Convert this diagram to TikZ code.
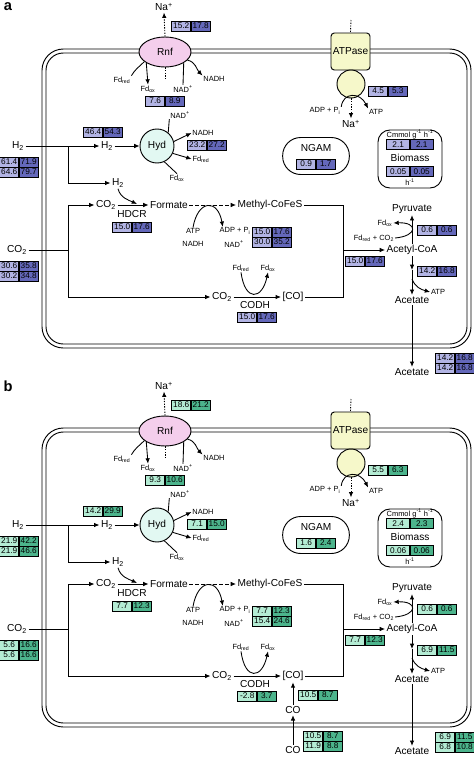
\documentclass[tikz,border=0pt]{standalone}
\usepackage{fontspec}
\setmainfont{Liberation Sans}
\usepackage{tikz}
\usetikzlibrary{arrows.meta,shapes.geometric}
\definecolor{avlight}{RGB}{178,180,228}
\definecolor{avdark}{RGB}{100,104,186}
\definecolor{bvlight}{RGB}{180,236,212}
\definecolor{bvdark}{RGB}{76,180,140}
\definecolor{rnfpink}{RGB}{244,206,236}
\definecolor{atpyellow}{RGB}{246,248,202}
\definecolor{hydcyan}{RGB}{226,248,242}
\colorlet{lightflux}{avlight}
\colorlet{darkflux}{avdark}
\tikzset{
  lbl/.style={font=\fontsize{7.6}{9}\selectfont,inner sep=1pt},
  smalllbl/.style={font=\fontsize{5.6}{6.5}\selectfont,inner sep=0.5pt},
  paneltitle/.style={font=\fontsize{11}{12}\selectfont\bfseries,inner sep=0pt},
  fluxcell/.style={draw,line width=0.4pt,minimum width=14.25pt,minimum height=7.5pt,inner sep=0pt,font=\fontsize{6.2}{6.2}\selectfont},
  fluxl/.style={fluxcell,fill=lightflux},
  fluxr/.style={fluxcell,fill=darkflux},
  widecell/.style={minimum width=17.25pt},
  rxnline/.style={line width=0.65pt},
  rxnarrow/.style={-{Latex[length=4pt,width=3.4pt]},line width=0.65pt},
  dottedarrow/.style={-{Latex[length=4pt,width=3.4pt]},line width=0.65pt,dash pattern=on 1pt off 1pt},
  dottedline/.style={line width=0.65pt,dash pattern=on 1pt off 1pt},
  membrane/.style={line width=0.7pt},
  rnfnode/.style={ellipse,draw,line width=0.7pt,fill=rnfpink,minimum width=39pt,minimum height=22.5pt,inner sep=0pt,font=\fontsize{7.6}{9}\selectfont},
  atpnode/.style={rectangle,rounded corners=2.5pt,draw,line width=0.7pt,fill=atpyellow,minimum width=29.25pt,minimum height=27.75pt,inner sep=0pt,font=\fontsize{7.6}{9}\selectfont},
  atpball/.style={circle,draw,line width=0.7pt,fill=atpyellow,minimum size=21pt,inner sep=0pt},
  hydnode/.style={circle,draw,line width=0.7pt,fill=hydcyan,minimum size=25.5pt,inner sep=0pt,font=\fontsize{7.6}{9}\selectfont},
  ngambox/.style={rectangle,rounded corners=13.5pt,draw,line width=0.7pt,minimum width=50pt,minimum height=27.75pt},
  biobox/.style={rectangle,rounded corners=9pt,draw,line width=0.7pt,minimum width=48pt,minimum height=43.5pt}
}
\newcommand{\fluxpair}[5][]{%
  \node[fluxl,#1,anchor=east] (#2l) at #3 {#4};
  \node[fluxr,#1,anchor=west] (#2r) at #3 {#5};
}
\newcommand{\pathwaycell}[1]{%
  \node[paneltitle] (#1title) at (8,7) {#1};
  % cell membrane
  \draw[membrane,rounded corners=16pt] (42,49) rectangle (471,348);
  \draw[membrane,rounded corners=13pt] (46,53) rectangle (467,344);
  % Rnf complex
  \node[rnfnode] (#1rnf) at (165,52) {Rnf};
  \node[lbl] (#1rnfna) at (164,7) {Na\textsuperscript{+}};
  \coordinate (#1rnfin) at (165,80);
  \draw[dottedarrow] (#1rnf.north) -- (#1rnfna.south);
  \draw[dottedline] (#1rnf.south) -- (#1rnfin);
  \node[smalllbl] (#1rfdred) at (122,80) {Fd\textsubscript{red}};
  \node[smalllbl] (#1rfdox) at (148,89) {Fd\textsubscript{ox}};
  \node[smalllbl] (#1rnad) at (183,89) {NAD\textsuperscript{+}};
  \node[smalllbl] (#1rnadh) at (214,79) {NADH};
  \draw[rxnline] (#1rfdred.north east) to[out=60,in=225] (#1rnf.205);
  \draw[rxnarrow] (#1rnf.south west) -- (#1rfdox.north);
  \draw[rxnline] (#1rnad.north) -- (#1rnf.south east);
  \draw[rxnarrow] (#1rnf.-20) to[out=-10,in=135] (#1rnadh.north west);
  % ATPase
  \node[atpnode] (#1atp) at (350.5,51.5) {ATPase};
  \coordinate (#1atpout) at (351,20);
  \draw[dottedline] (#1atpout) -- (#1atp.north);
  \node[atpball] (#1atpball) at (351,84) {};
  \node[lbl] (#1atpna) at (351,124) {Na\textsuperscript{+}};
  \draw[dottedarrow] (#1atpball.south) -- (#1atpna.north);
  \node[smalllbl] (#1atpadp) at (325,111) {ADP + P\textsubscript{i}};
  \node[smalllbl] (#1atpatp) at (376,112) {ATP};
  \draw[rxnarrow] (#1atpadp.north east) .. controls (343,92) and (360,92) .. (#1atpatp.north west);
  % maintenance and growth
  \node[ngambox] (#1ngam) at (316,156) {};
  \node[lbl] (#1ngamlbl) at (316,148) {NGAM};
  \node[biobox] (#1bio) at (410,159) {};
  \node[smalllbl] (#1biounit) at (410,134.5) {Cmmol g\textsuperscript{-1} h\textsuperscript{-1}};
  \node[lbl] (#1biolbl) at (410,158) {Biomass};
  \node[smalllbl] (#1biorate) at (410,182) {h\textsuperscript{-1}};
  % hydrogenase
  \node[lbl] (#1h2in) at (18,146) {H\textsubscript{2}};
  \node[lbl] (#1h2hyd) at (107,146) {H\textsubscript{2}};
  \node[hydnode] (#1hyd) at (157,146) {Hyd};
  \coordinate (#1h2split) at (68,146);
  \draw[rxnarrow] (#1h2in.east) -- (#1h2hyd.west);
  \draw[rxnarrow] (#1h2hyd.east) -- (#1hyd.west);
  \node[lbl] (#1h2hdcr) at (118,183) {H\textsubscript{2}};
  \draw[rxnarrow] (#1h2split) |- (#1h2hdcr.west);
  \node[smalllbl] (#1hnad) at (180,115) {NAD\textsuperscript{+}};
  \node[smalllbl] (#1hnadh) at (203,133) {NADH};
  \node[smalllbl] (#1hfdred) at (201,159) {Fd\textsubscript{red}};
  \node[smalllbl] (#1hfdox) at (177,178) {Fd\textsubscript{ox}};
  \draw[rxnline] (#1hyd.50) -- (#1hnad.south west);
  \draw[rxnarrow] (#1hyd.15) -- (#1hnadh.west);
  \draw[rxnarrow] (#1hyd.-25) -- (#1hfdred.west);
  \draw[rxnline] (#1hyd.-65) -- (#1hfdox.north);
  % Wood-Ljungdahl pathway
  \node[lbl] (#1co2in) at (17,250) {CO\textsubscript{2}};
  \coordinate (#1co2top) at (68,205);
  \coordinate (#1co2join) at (68,250);
  \node[lbl] (#1co2hdcr) at (106,205) {CO\textsubscript{2}};
  \node[lbl] (#1formate) at (169,205) {Formate};
  \node[lbl] (#1methyl) at (270,205) {Methyl-CoFeS};
  \node[lbl] (#1co2codh) at (222,297) {CO\textsubscript{2}};
  \node[lbl] (#1co) at (293,297) {[CO]};
  \draw[rxnline] (#1co2in.east) -- (#1co2join);
  \draw[rxnarrow] (#1co2top) -- (#1co2hdcr.west);
  \draw[rxnarrow] (#1co2top) |- (#1co2codh.west);
  \draw[rxnarrow] (#1co2hdcr.east) -- (#1formate.west);
  \coordinate (#1hdcrin) at (137,204);
  \draw[rxnarrow] (#1h2hdcr.south) to[out=-75,in=155] (#1hdcrin);
  \node[lbl] (#1hdcr) at (132,214) {HDCR};
  \draw[rxnarrow,dash pattern=on 3pt off 1.5pt] (#1formate.east) -- (#1methyl.west);
  \node[smalllbl] (#1mtatp) at (193,231) {ATP};
  \node[smalllbl] (#1mtnadh) at (193,244) {NADH};
  \node[smalllbl] (#1mtadp) at (235,231) {ADP + P\textsubscript{i}};
  \node[smalllbl] (#1mtnad) at (234,244) {NAD\textsuperscript{+}};
  \draw[rxnarrow] (#1mtatp.north) .. controls (198,199) and (218,199) .. ([xshift=3pt]#1mtadp.north west);
  \draw[rxnarrow] (#1co2codh.east) -- (#1co.west);
  \node[lbl] (#1codh) at (255,305) {CODH};
  \node[smalllbl] (#1cfdred) at (241,268) {Fd\textsubscript{red}};
  \node[smalllbl] (#1cfdox) at (268,268) {Fd\textsubscript{ox}};
  \draw[rxnarrow] (#1cfdred.south) .. controls (245,302) and (262,300) .. (#1cfdox.south);
  \coordinate (#1acjoin) at (343,250);
  \node[lbl] (#1acoa) at (412,250) {Acetyl-CoA};
  \draw[rxnline] (#1methyl.east) -| (#1acjoin);
  \draw[rxnline] (#1co.east) -| (#1acjoin);
  \draw[rxnarrow] (#1acjoin) -- (#1acoa.west);
  % pyruvate and acetate
  \node[lbl] (#1pyr) at (412,209) {Pyruvate};
  \draw[rxnarrow] (#1acoa.north) -- (#1pyr.south);
  \node[smalllbl] (#1pfdred) at (374,238) {Fd\textsubscript{red} + CO\textsubscript{2}};
  \node[smalllbl] (#1pfdox) at (385,223) {Fd\textsubscript{ox}};
  \draw[rxnarrow] (#1pfdred.east) .. controls (418,236) and (418,222) .. (#1pfdox.east);
  \coordinate (#1acmid) at (412,270);
  \coordinate (#1acside) at (412,279);
  \node[lbl] (#1acet) at (412,300) {Acetate};
  \node[smalllbl] (#1acatp) at (438,292) {ATP};
  \draw[rxnarrow] (#1acoa.south) -- (#1acmid);
  \draw[rxnarrow] (#1acmid) -- (#1acet.north);
  \draw[rxnarrow] (#1acside) to[out=-70,in=165] (#1acatp.west);
  \node[lbl] (#1acetout) at (412,372) {Acetate};
  \draw[rxnarrow] (#1acet.south) -- (#1acetout.north);
}

\begin{document}
\begin{tikzpicture}[x=0.75pt,y=-0.75pt]
  \useasboundingbox (0,0) rectangle (474,757);
  % panel a
  \begin{scope}
    \colorlet{lightflux}{avlight}
    \colorlet{darkflux}{avdark}
    \pathwaycell{a}
    \fluxpair{arnfna}{(191,26)}{15.2}{17.8}
    \fluxpair{arnffd}{(165,101)}{7.6}{8.9}
    \fluxpair{aatp}{(388,91)}{4.5}{5.3}
    \fluxpair{ah2hyd}{(103,132)}{46.4}{54.3}
    \fluxpair{ahnadh}{(207,145)}{23.2}{27.2}
    \fluxpair{ah2ina}{(19,162)}{61.4}{71.9}
    \fluxpair{ah2inb}{(19,172)}{64.6}{79.7}
    \fluxpair{angam}{(316,164)}{0.9}{1.7}
    \fluxpair[widecell]{abiocm}{(410,144.5)}{2.1}{2.1}
    \fluxpair[widecell]{abiomu}{(410,171.5)}{0.05}{0.05}
    \fluxpair{ahdcr}{(132,227)}{15.0}{17.6}
    \fluxpair{amtatp}{(272,232)}{15.0}{17.6}
    \fluxpair{amtnad}{(272,242)}{30.0}{35.2}
    \fluxpair{aco2ina}{(19,266)}{30.6}{35.8}
    \fluxpair{aco2inb}{(19,276)}{30.2}{34.8}
    \fluxpair{apyr}{(437,230)}{0.6}{0.6}
    \fluxpair{aacoa}{(365,261)}{15.0}{17.6}
    \fluxpair{aacet}{(437,271)}{14.2}{16.8}
    \fluxpair{acodh}{(257,317)}{15.0}{17.6}
    \fluxpair{aacouta}{(455,358)}{14.2}{16.8}
    \fluxpair{aacoutb}{(455,368)}{14.2}{16.8}
  \end{scope}
  % panel b
  \begin{scope}[shift={(0,379)}]
    \colorlet{lightflux}{bvlight}
    \colorlet{darkflux}{bvdark}
    \pathwaycell{b}
    \node[lbl] (bcoin) at (293,331) {CO};
    \node[lbl] (bcoout) at (293,371) {CO};
    \draw[rxnarrow] (bcoin.north) -- (bco.south);
    \draw[rxnarrow] (bcoout.north) -- (bcoin.south);
    \fluxpair{brnfna}{(191,26)}{18.6}{21.2}
    \fluxpair{brnffd}{(165,101)}{9.3}{10.6}
    \fluxpair{batp}{(388,91)}{5.5}{6.3}
    \fluxpair{bh2hyd}{(103,132)}{14.2}{29.9}
    \fluxpair{bhnadh}{(207,145)}{7.1}{15.0}
    \fluxpair{bh2ina}{(19,162)}{21.9}{42.2}
    \fluxpair{bh2inb}{(19,172)}{21.9}{46.6}
    \fluxpair{bngam}{(316,164)}{1.6}{2.4}
    \fluxpair[widecell]{bbiocm}{(410,144.5)}{2.4}{2.3}
    \fluxpair[widecell]{bbiomu}{(410,171.5)}{0.06}{0.06}
    \fluxpair{bhdcr}{(132,227)}{7.7}{12.3}
    \fluxpair{bmtatp}{(272,232)}{7.7}{12.3}
    \fluxpair{bmtnad}{(272,242)}{15.4}{24.6}
    \fluxpair{bco2ina}{(19,266)}{5.6}{16.6}
    \fluxpair{bco2inb}{(19,276)}{5.6}{16.6}
    \fluxpair{bpyr}{(437,230)}{0.6}{0.6}
    \fluxpair{bacoa}{(365,261)}{7.7}{12.3}
    \fluxpair{bacet}{(437,271)}{6.9}{11.5}
    \fluxpair{bcodh}{(257,317)}{-2.8}{3.7}
    \fluxpair{bcoflux}{(318,316)}{10.5}{8.7}
    \fluxpair{bcoouta}{(323,357)}{10.5}{8.7}
    \fluxpair{bcooutb}{(323,367)}{11.9}{8.8}
    \fluxpair{bacouta}{(455,358)}{6.9}{11.5}
    \fluxpair{bacoutb}{(455,368)}{6.8}{10.8}
  \end{scope}
\end{tikzpicture}
\end{document}
